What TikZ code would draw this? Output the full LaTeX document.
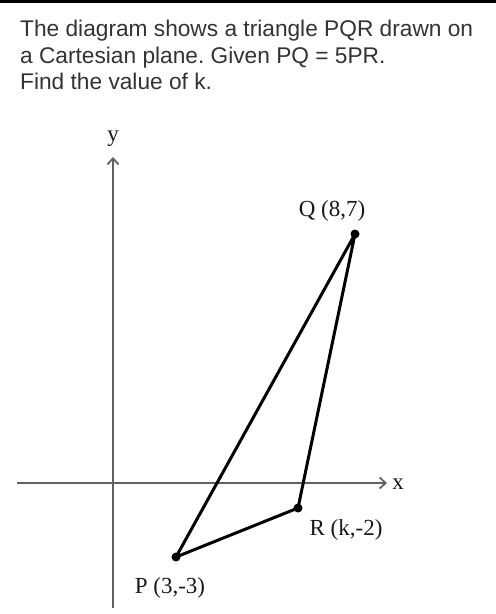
\documentclass[tikz,border=0pt]{standalone}
\usepackage{fontspec}
\setmainfont{Liberation Serif}
\newfontfamily\headfont{Liberation Sans}
\usetikzlibrary{arrows.meta}
\frenchspacing

\begin{document}
\begin{tikzpicture}[x=1pt,y=-1pt,
		axis/.style={line width=1.8pt, color=black!62},
		side/.style={line width=3pt, line join=round},
		dot/.style={circle, fill=black, inner sep=0pt, minimum size=9pt},
		lbl/.style={font=\fontsize{23}{25}\selectfont, text=black!90},
		head/.style={font=\headfont\fontsize{22.7}{27}\selectfont, text=black!80, anchor=base west, inner sep=0pt}]
		%%%%% START %%%%%
		
		\useasboundingbox[fill=white] (0,0) rectangle (496,614);
		\fill[black] (0,0) rectangle (496,3);
		
		\node[head] (line1) at (20,36) {The diagram shows a triangle PQR drawn on};
		\node[head] (line2) at (20,63) {a Cartesian plane. Given PQ = 5PR.};
		\node[head] (line3) at (20,89) {Find the value of k.};
		
		\coordinate (xstart) at (17,483);
		\coordinate (xend) at (387,483);
		\coordinate (ystart) at (113,608);
		\coordinate (yend) at (113,157);
		\draw[axis, -{Straight Barb[length=6pt, width=11pt]}] (xstart) -- (xend);
		\draw[axis, -{Straight Barb[length=6pt, width=11pt]}] (ystart) -- (yend);
		\node[lbl] (xlab) at (398,484) {x};
		\node[lbl] (ylab) at (113,139) {y};
		
		\node[dot] (P) at (176,557) {};
		\node[dot] (R) at (298,508) {};
		\node[dot] (Q) at (355,234) {};
		\draw[side] (P.center) -- (Q.center) -- (R.center) -- cycle;
		
		\node[lbl] (Qlab) at (332,211) {Q (8,7)};
		\node[lbl] (Rlab) at (346,530) {R (k,-2)};
		\node[lbl] (Plab) at (170,588) {P (3,-3)};
		
		%%%%% END %%%%%
	\end{tikzpicture}
\end{document}
